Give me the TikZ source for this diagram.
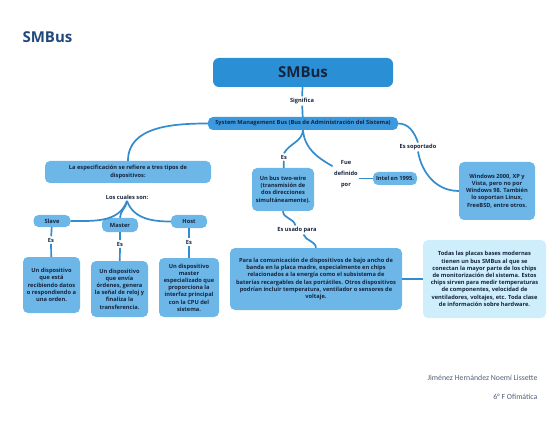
\documentclass[tikz,border=0pt]{standalone}
\usepackage{fontspec}
\setmainfont{Open Sans}
\newfontfamily\authorfont{Carlito}
\usetikzlibrary{positioning}
\definecolor{titleblue}{RGB}{31,73,125}
\definecolor{rootblue}{RGB}{43,143,214}
\definecolor{midblue}{RGB}{60,153,222}
\definecolor{boxblue}{RGB}{108,183,232}
\definecolor{paleblue}{RGB}{205,238,250}
\definecolor{linkblue}{RGB}{50,140,205}
\definecolor{inkblue}{RGB}{22,36,62}
\definecolor{authorgray}{RGB}{80,95,120}

\begin{document}
\begin{tikzpicture}[x=1pt, y=1pt,
    font=\bfseries\fontsize{5.7}{7.2}\selectfont, text=inkblue,
    box/.style={rounded corners=5pt, fill=boxblue, align=center, inner sep=2pt},
    lbl/.style={align=center, inner sep=1.5pt},
    link/.style={draw=linkblue, line width=1.7pt}]
  \useasboundingbox (0,0) rectangle (560,-433);
  % Title
  \node[anchor=west, font=\bfseries\fontsize{15}{18}\selectfont, text=titleblue] (title) at (19,-37) {SMBus};
  % Root and meaning
  \node[box, fill=rootblue, rounded corners=6pt, minimum width=180, minimum height=29,
        font=\bfseries\fontsize{15}{18}\selectfont] (root) at (303,-72.5) {SMBus};
  \node[lbl] (signif) at (302,-101) {Significa};
  \node[box, fill=midblue, minimum width=190, minimum height=13] (sms) at (303,-123.5)
    {System Management Bus (Bus de Administración del Sistema)};
  % Left branch: device types
  \node[box, minimum width=166, minimum height=22] (espec) at (128,-172)
    {La especificación se refiere a tres tipos de\\dispositivos:};
  \node[lbl] (loscual) at (127,-197) {Los cuales son:};
  \node[box, minimum width=37, minimum height=12] (slave) at (52,-221) {Slave};
  \node[box, minimum width=36, minimum height=14] (master) at (120,-225) {Master};
  \node[box, minimum width=36, minimum height=13] (host) at (189,-221.5) {Host};
  \node[lbl] (esslave) at (51,-240) {Es};
  \node[lbl] (esmaster) at (120,-244) {Es};
  \node[lbl] (eshost) at (189,-242) {Es};
  \node[box, minimum width=57, minimum height=56] (dslave) at (51.5,-285)
    {Un dispositivo\\que está\\recibiendo datos\\o respondiendo a\\una orden.};
  \node[box, minimum width=57, minimum height=56] (dmaster) at (119.5,-289)
    {Un dispositivo\\que envía\\órdenes, genera\\la señal de reloj y\\finaliza la\\transferencia.};
  \node[box, minimum width=60, minimum height=59] (dhost) at (189,-287.5)
    {Un dispositivo\\master\\especializado que\\proporciona la\\interfaz principal\\con la CPU del\\sistema.};
  % Middle branch
  \node[lbl] (esbus) at (284,-157) {Es};
  \node[box, minimum width=62, minimum height=43] (unbus) at (283,-189.5)
    {Un bus two-wire\\(transmisión de\\dos direcciones\\simultáneamente).};
  \node[lbl, font=\bfseries\fontsize{5.7}{11}\selectfont] (fue) at (346,-174) {Fue\\definido\\por};
  \node[box, minimum width=44, minimum height=13] (intel) at (395,-178.5) {Intel en 1995.};
  \node[lbl] (esusado) at (297,-230) {Es usado para};
  \node[box, minimum width=172, minimum height=62] (para) at (316,-279)
    {Para la comunicación de dispositivos de bajo ancho de\\banda en la placa madre, especialmente en chips\\relacionados a la energía como el subsistema de\\baterías recargables de las portátiles. Otros dispositivos\\podrían incluir temperatura, ventilador o sensores de\\voltaje.};
  \node[box, fill=paleblue, minimum width=123, minimum height=78] (todas) at (484.5,-279)
    {Todas las placas bases modernas\\tienen un bus SMBus al que se\\conectan la mayor parte de los chips\\de monitorización del sistema. Estos\\chips sirven para medir temperaturas\\de componentes, velocidad de\\ventiladores, voltajes, etc. Toda clase\\de información sobre hardware.};
  % Right branch
  \node[lbl] (essop) at (418,-147) {Es soportado};
  \node[box, minimum width=76, minimum height=58] (windows) at (497,-191)
    {Windows 2000, XP y\\Vista, pero no por\\Windows 98. También\\lo soportan Linux,\\FreeBSD, entre otros.};
  % Author
  \node[anchor=east, font=\authorfont\fontsize{7.8}{9}\selectfont, text=authorgray] (author) at (541,-378)
    {Jiménez Hernández Noemí Lissette};
  \node[anchor=east, font=\authorfont\fontsize{7.8}{9}\selectfont, text=authorgray] (group) at (541,-397)
    {6° F Ofimática};
  % Connectors
  \draw[link] (root) -- (signif) -- (sms);
  \draw[link] (sms.west) to[out=180, in=90] (espec.north);
  \draw[link] (loscual.south) to[out=-110, in=0] (slave.east);
  \draw[link] (loscual.south) to[out=-95, in=90] (master.north);
  \draw[link] (loscual.south) to[out=-70, in=180] (host.west);
  \draw[link] (slave) -- (esslave) -- (dslave);
  \draw[link] (master) -- (esmaster) -- (dmaster);
  \draw[link] (host) -- (eshost) -- (dhost);
  \draw[link] (sms.south) to[out=-95, in=60] (esbus.north);
  \draw[link] (sms.south) to[out=-85, in=150] (fue.150);
  \draw[link] (esbus) -- (unbus);
  \draw[link] (intel.west) -- (fue.east |- intel.west);
  \draw[link] (unbus.south) to[out=-90, in=100] (esusado.110);
  \draw[link] (esusado.-35) to[out=-70, in=95] (para.north);
  \draw[link] (para.east) -- (todas.west);
  \draw[link] (sms.east) to[out=0, in=110] (essop.north);
  \draw[link] (essop.south) to[out=-80, in=180] (windows.west);
\end{tikzpicture}
\end{document}
